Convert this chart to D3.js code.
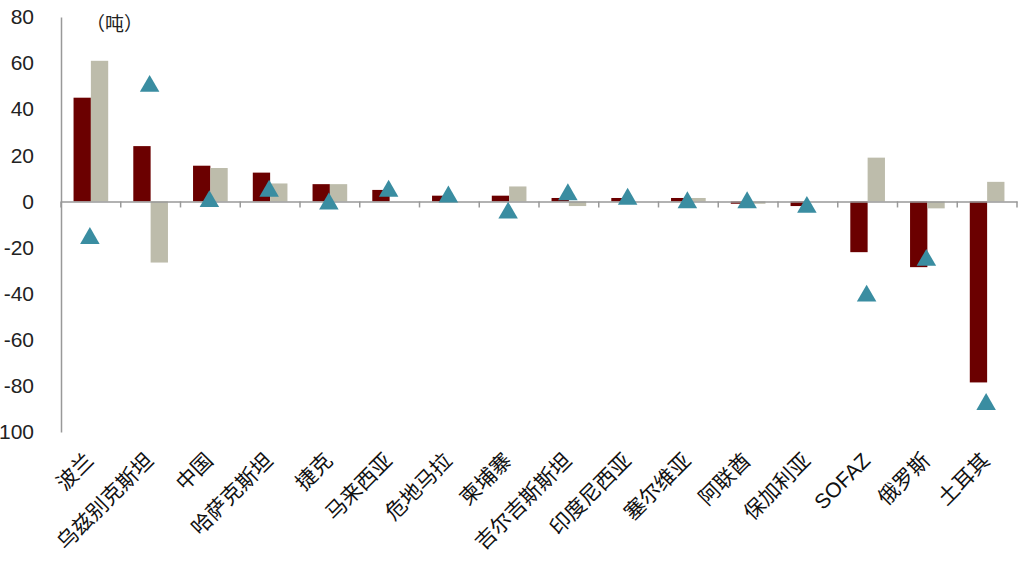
<!DOCTYPE html>
<html><head><meta charset="utf-8">
<script src="https://cdn.jsdelivr.net/npm/d3@7"></script>
<style>body{margin:0;background:#fff}svg{display:block}text{font-family:"Liberation Sans","Noto Sans CJK SC",sans-serif}</style>
</head><body>
<svg id="c" width="1024" height="565"></svg>
<script>
const categories = ["波兰","乌兹别克斯坦","中国","哈萨克斯坦","捷克","马来西亚","危地马拉","柬埔寨","吉尔吉斯斯坦","印度尼西亚","塞尔维亚","阿联酋","保加利亚","SOFAZ","俄罗斯","土耳其"];
const seriesA = [45, 24, 15.5, 12.5, 7.5, 5, 2.5, 2.5, 1.5, 1.5, 1.5, -1, -2, -22, -28.5, -78.5];
const seriesB = [61, -26.5, 14.5, 7.8, 7.5, 0, 0, 6.5, -2, 0, 1.5, -1, 0, 19, -3, 8.5];
const seriesC = [-16, 50, 0, 4.5, -1, 4.5, 2, -5, 3, 1, -0.5, -0.5, -2.5, -41, -25.5, -88];
const yTicks = [80, 60, 40, 20, 0, -20, -40, -60, -80, -100];
const unitLabel = "（吨）";

const svg = d3.select("#c");
const x = d3.scaleBand().domain(categories).range([61, 1017]).padding(0);
const y = d3.scaleLinear().domain([-100, 80]).range([432, 17]);
const bw = x.bandwidth();
const x1 = d3.scaleBand().domain(["A","B"]).range([bw*0.21, bw*0.79]);

const g = svg.append("g");
const rows = categories.map((c,i)=>({c, a:seriesA[i], b:seriesB[i], t:seriesC[i]}));
g.selectAll("rect.a").data(rows).join("rect")
  .attr("x", d=>x(d.c)+x1("A")).attr("width", x1.bandwidth())
  .attr("y", d=>y(Math.max(0,d.a))).attr("height", d=>Math.abs(y(d.a)-y(0)))
  .attr("fill", "#6b0000");
g.selectAll("rect.b").data(rows).join("rect")
  .attr("x", d=>x(d.c)+x1("B")).attr("width", x1.bandwidth())
  .attr("y", d=>y(Math.max(0,d.b))).attr("height", d=>Math.abs(y(d.b)-y(0)))
  .attr("fill", "#bdbcab");

const yAxis = d3.axisLeft(y).tickValues(yTicks).tickSize(0).tickPadding(27).tickFormat(d=>String(d));
const ya = svg.append("g").attr("transform","translate(61,0)").call(yAxis);
ya.select(".domain").attr("stroke","#999").attr("stroke-width",1.5);
ya.selectAll("text").attr("font-size",21).attr("fill","#222");

const xAxis = d3.axisBottom(x).tickSize(0).tickFormat("");
const xa = svg.append("g").attr("transform",`translate(0,${y(0)})`).call(xAxis);
xa.select(".domain").attr("stroke","#999").attr("stroke-width",1.5);
xa.selectAll(".tick").remove();
const bounds = categories.map(c=>x(c)).concat([x.range()[1]]);
xa.selectAll("line.bt").data(bounds).join("line")
  .attr("x1",d=>d).attr("x2",d=>d).attr("y1",0).attr("y2",6)
  .attr("stroke","#999").attr("stroke-width",1.5);

svg.append("g").selectAll("text").data(categories).join("text")
  .attr("transform", d=>`translate(${x(d)+bw/2+4},462) rotate(-45)`)
  .attr("text-anchor","end").attr("font-size",21).attr("fill","#111")
  .text(d=>d);

const tri = d3.symbol().type(d3.symbolTriangle).size(165);
svg.append("g").selectAll("path").data(rows).join("path")
  .attr("transform", d=>`translate(${x(d.c)+bw/2-1},${y(d.t)})`)
  .attr("d", tri).attr("fill","#3a8da1");

svg.append("text").attr("x",86).attr("y",31).attr("font-size",19).attr("fill","#222").text(unitLabel);
</script>
</body></html>
